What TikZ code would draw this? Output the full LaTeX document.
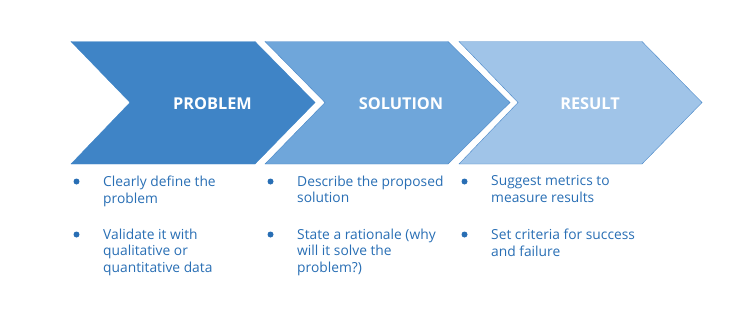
\documentclass[tikz,border=0pt]{standalone}
\usepackage{fontspec}
\setmainfont{Open Sans}
\usepackage{tikz}
\usetikzlibrary{arrows.meta}

\definecolor{probfill}{RGB}{63,132,198}
\definecolor{solfill}{RGB}{111,166,218}
\definecolor{resfill}{RGB}{160,196,232}
\definecolor{edgeblue}{RGB}{74,136,200}
\definecolor{textblue}{RGB}{40,110,180}

\begin{document}
\begin{tikzpicture}[x=1pt,y=-1pt,
  title/.style={anchor=base,text=white,font=\fontsize{16.3}{16}\selectfont\bfseries},
  item/.style={anchor=north west,align=left,text=textblue,inner sep=0pt,
    font=\fontsize{13.8}{16.8}\selectfont,execute at begin node=\strut},
  dot/.style={fill=textblue,circle,inner sep=0pt,minimum size=6pt}]
  \useasboundingbox (0,0) rectangle (754,311);
  % chevrons
  \draw[fill=probfill,draw=probfill] (71,41.5) -- (255,41.5) -- (315,102.5) -- (255,164) -- (71,164) -- (130,102.5) -- cycle;
  \draw[fill=solfill,draw=edgeblue] (265,41.5) -- (448,41.5) -- (510,102.5) -- (448,164) -- (265,164) -- (325,102.5) -- cycle;
  \draw[fill=resfill,draw=edgeblue] (459,41.5) -- (642,41.5) -- (702,102.5) -- (642,164) -- (459,164) -- (518,102.5) -- cycle;
  \node[title] (problem) at (212.5,109) {PROBLEM};
  \node[title] (solution) at (401,109) {SOLUTION};
  \node[title] (result) at (590,109) {RESULT};
  % bullet lists
  \node[dot] (d1a) at (76.5,181.5) {};
  \node[item] (i1a) at (103,175.5) {Clearly define the\\problem};
  \node[dot] (d1b) at (76.5,234.5) {};
  \node[item] (i1b) at (103,228.5) {Validate it with\\qualitative or\\quantitative data};
  \node[dot] (d2a) at (270.5,181.5) {};
  \node[item] (i2a) at (297,175.5) {Describe the proposed\\solution};
  \node[dot] (d2b) at (270.5,234.5) {};
  \node[item] (i2b) at (297,228.5) {State a rationale (why\\will it solve the\\problem?)};
  \node[dot] (d3a) at (464.5,181.5) {};
  \node[item] (i3a) at (491,175.5) {Suggest metrics to\\measure results};
  \node[dot] (d3b) at (464.5,234.5) {};
  \node[item] (i3b) at (491,228.5) {Set criteria for success\\and failure};
\end{tikzpicture}
\end{document}
